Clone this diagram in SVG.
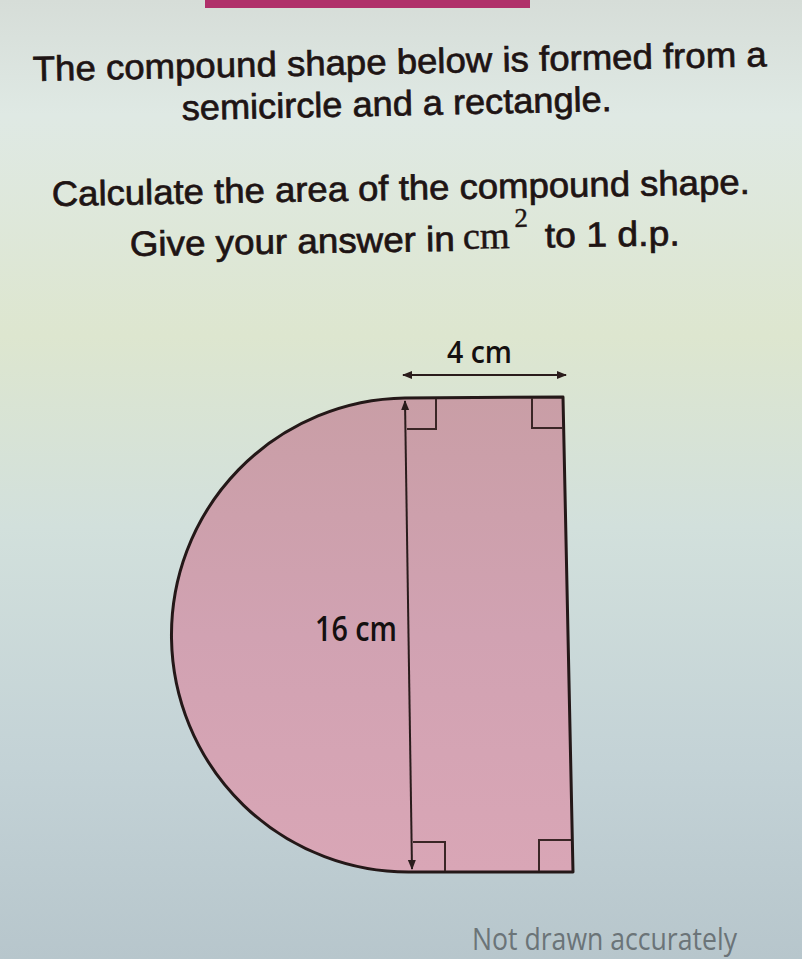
<svg xmlns="http://www.w3.org/2000/svg" width="802" height="959" viewBox="0 0 802 959">
<style>
.q{font-family:"Liberation Sans",Arial,sans-serif;font-size:35px;fill:#1e1414;stroke:#1e1414;stroke-width:0.7;}
.lbl{font-family:"Open Sans","Noto Sans",sans-serif;font-weight:600;fill:#141010;}
.edge{fill:none;stroke:#241818;stroke-width:3;stroke-linejoin:round;}
.mark{fill:none;stroke:#3a2626;stroke-width:2;}
.dim{fill:none;stroke:#2a1c1c;stroke-width:2;}
</style>
<defs>
<linearGradient id="bg" x1="0" y1="0" x2="0" y2="1">
<stop offset="0" stop-color="#d6ddd8"/>
<stop offset="0.12" stop-color="#dfe9e4"/>
<stop offset="0.35" stop-color="#dde6cf"/>
<stop offset="0.55" stop-color="#d2e0dc"/>
<stop offset="0.8" stop-color="#c3d2d6"/>
<stop offset="1" stop-color="#b7c6cc"/>
</linearGradient>
<linearGradient id="fillg" x1="0" y1="0" x2="0" y2="1">
<stop offset="0" stop-color="#c99ea6"/>
<stop offset="0.5" stop-color="#d1a2b2"/>
<stop offset="1" stop-color="#d9a6b6"/>
</linearGradient>
<marker id="arr" viewBox="0 0 10 10" refX="9" refY="5" markerWidth="10" markerHeight="10" orient="auto-start-reverse" markerUnits="userSpaceOnUse">
<path d="M0,1 L10,5 L0,9 Z" fill="#2a1c1c"/>
</marker>
</defs>
<rect width="802" height="959" fill="url(#bg)"/>
<rect x="205" y="0" width="325" height="8" fill="#b0306a"/>

<g id="question">
<text class="q" x="33" y="81" textLength="734" lengthAdjust="spacingAndGlyphs" transform="rotate(-1.15 33 81)">The compound shape below is formed from a</text>
<text class="q" x="182" y="120" textLength="430" lengthAdjust="spacingAndGlyphs" transform="rotate(-1.2 182 120)">semicircle and a rectangle.</text>
<text class="q" x="52" y="206" textLength="698" lengthAdjust="spacingAndGlyphs" transform="rotate(-1.0 52 206)">Calculate the area of the compound shape.</text>
<g transform="rotate(-0.9 130 256)">
<text class="q" x="130" y="256" textLength="325" lengthAdjust="spacingAndGlyphs">Give your answer in</text>
<text x="463" y="254" textLength="47" lengthAdjust="spacingAndGlyphs" style="font-family:'Liberation Serif',serif;font-size:38px;fill:#1e1414;stroke:#1e1414;stroke-width:0.5">cm</text>
<text x="515" y="233" style="font-family:'Liberation Serif',serif;font-size:27px;fill:#1e1414;stroke:#1e1414;stroke-width:0.4">2</text>
<text class="q" x="545" y="254" textLength="135" lengthAdjust="spacingAndGlyphs">to 1 d.p.</text>
</g>
</g>

<g id="compound-shape">
<path class="edge" d="M405,398 L563,397 L573,872 L412,872 A237 237 0 0 1 405,398 Z" style="fill:url(#fillg)"/>
<path class="mark" d="M407,429 L436,429 L436,399"/>
<path class="mark" d="M532,398 L532,428 L563,428"/>
<path class="mark" d="M413,842 L445,842 L445,871"/>
<path class="mark" d="M539,871 L539,840 L571,840"/>
</g>

<g id="connectors">
<line class="dim" x1="403" y1="375" x2="566" y2="375" marker-start="url(#arr)" marker-end="url(#arr)"/>
<line class="dim" x1="405" y1="401" x2="412" y2="869" marker-start="url(#arr)" marker-end="url(#arr)"/>
</g>

<g id="label-4cm">
<text class="lbl" x="447" y="363" font-size="30" textLength="65" lengthAdjust="spacingAndGlyphs">4 cm</text>
</g>
<g id="label-16cm">
<text class="lbl" x="315" y="641" font-size="35" textLength="82" lengthAdjust="spacingAndGlyphs">16 cm</text>
</g>
<g id="note">
<text x="472" y="950" textLength="265" lengthAdjust="spacingAndGlyphs" style="font-family:'Open Sans','Noto Sans',sans-serif;font-size:31px;fill:#6b7478">Not drawn accurately</text>
</g>
</svg>
